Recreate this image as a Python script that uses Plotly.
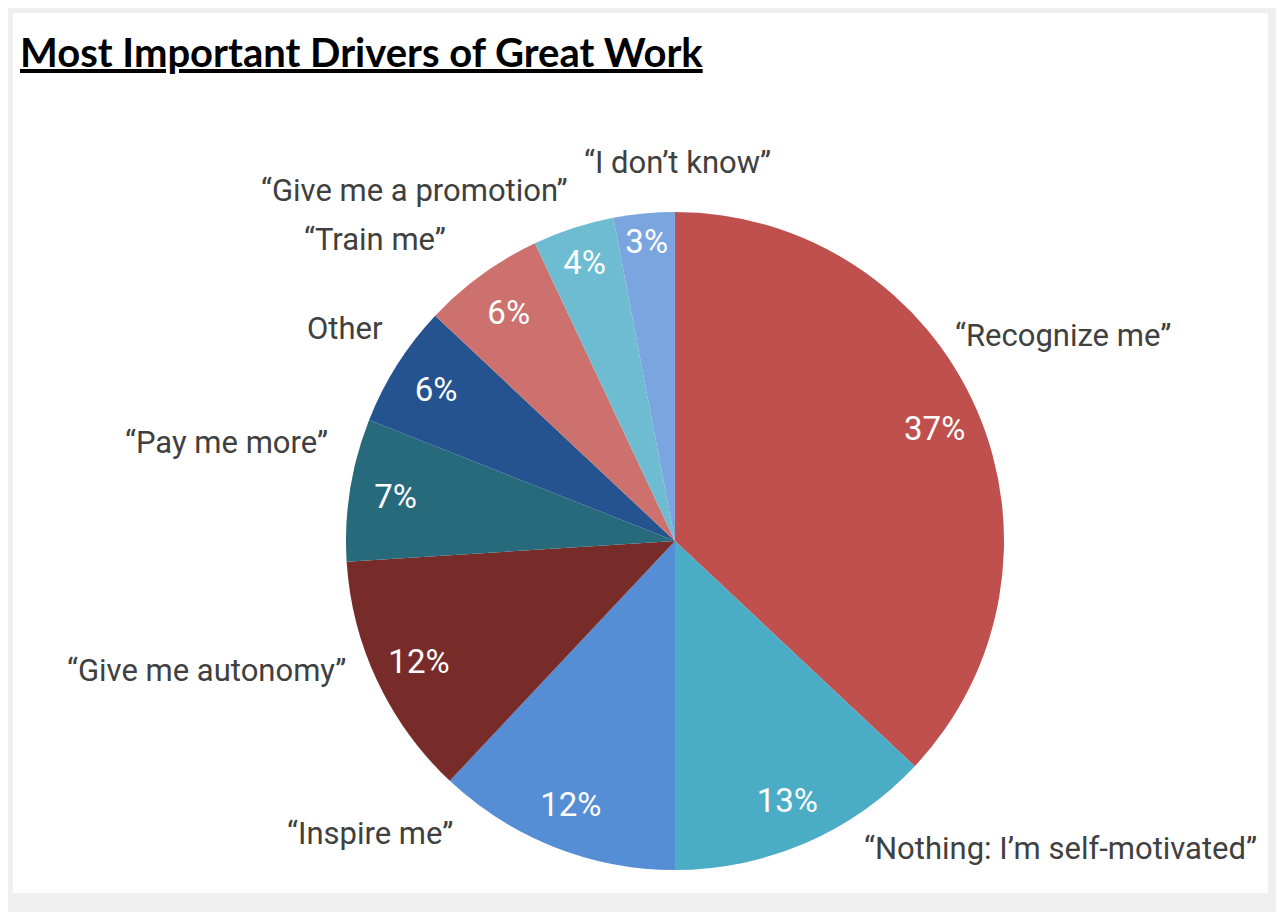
import plotly.graph_objects as go

# survey answers, clockwise from 12 o'clock
labels = [
    '“Recognize me”',
    '“Nothing: I’m self-motivated”',
    '“Inspire me”',
    '“Give me autonomy”',
    '“Pay me more”',
    'Other',
    '“Train me”',
    '“Give me a promotion”',
    '“I don’t know”',
]
shares = [37, 13, 12, 12, 7, 6, 6, 4, 3]
colors = ['#C0504D', '#4BACC6', '#558ED5', '#772C2A', '#276A7C',
          '#25538F', '#CD716F', '#6DBCD2', '#7BA5DE']

# where the outside labels sit (page pixels, text centre)
label_pos = [(1063, 335), (1060, 848), (370, 833), (206, 670), (226, 443),
             (345, 328), (375, 240), (414, 190), (677, 162)]

OFF = 8                        # body margin of the html page
W, H = 1284 - OFF, 912 - OFF
CX, CY, R = 675, 541, 329      # pie centre / radius, page px

LABEL_FONT = 'Roboto, Liberation Sans, Arial, sans-serif'


def px_x(x):
    return (x - OFF) / W


def px_y(y):
    return 1 - (y - OFF) / H


pie_domain = dict(x=[px_x(CX - R), px_x(CX + R)], y=[px_y(CY + R), px_y(CY - R)])

fig = go.Figure()

# coloured slices
fig.add_trace(go.Pie(
    labels=labels,
    values=shares,
    sort=False,
    direction='clockwise',
    rotation=0,
    domain=pie_domain,
    marker=dict(colors=colors, line=dict(width=0)),
    textinfo='none',
    showlegend=False,
    hoverinfo='label+value',
))

# transparent ring on top that carries the percentages near the rim
fig.add_trace(go.Pie(
    labels=labels,
    values=shares,
    sort=False,
    direction='clockwise',
    rotation=0,
    hole=0.72,
    domain=pie_domain,
    marker=dict(colors=['rgba(0,0,0,0)'] * len(labels), line=dict(width=0)),
    texttemplate='%{value}%',
    textposition='inside',
    insidetextorientation='horizontal',
    textfont=dict(family=LABEL_FONT, size=33, color='white'),
    showlegend=False,
    hoverinfo='skip',
))

annotations = [
    dict(text=lab, x=px_x(x), y=px_y(y), xref='paper', yref='paper',
         xanchor='center', yanchor='middle', showarrow=False,
         font=dict(family=LABEL_FONT, size=31, color='#404040'))
    for lab, (x, y) in zip(labels, label_pos)
]

fig.update_layout(
    width=W,
    height=H,
    margin=dict(l=0, r=0, t=0, b=0),
    paper_bgcolor='#EFEFEF',
    plot_bgcolor='white',
    uniformtext=dict(minsize=33, mode='show'),
    title=dict(
        text='<b><u>Most Important Drivers of Great Work</u></b>',
        x=px_x(20), xanchor='left',
        y=px_y(53), yanchor='middle',
        font=dict(family='Lato, Open Sans, sans-serif', size=40, color='black'),
    ),
    annotations=annotations,
    shapes=[dict(type='rect', xref='paper', yref='paper',
                 x0=px_x(13), x1=px_x(1268), y0=px_y(893), y1=px_y(13),
                 fillcolor='white', line=dict(width=0), layer='below')],
)

fig.write_html('out.html')
